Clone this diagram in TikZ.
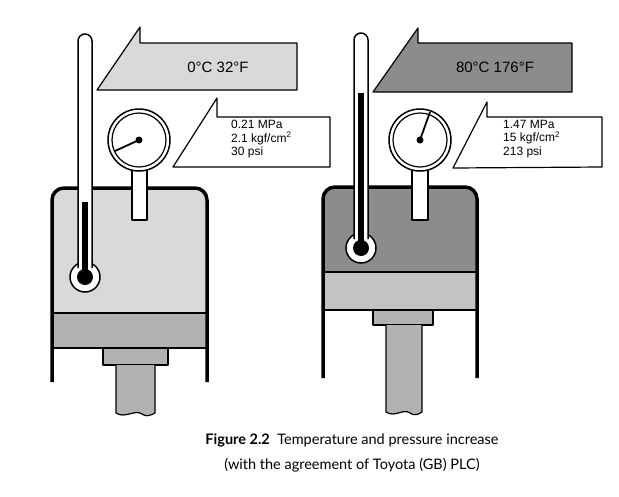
\documentclass[tikz,border=0pt]{standalone}
\usepackage{fontspec}
\setmainfont{Liberation Sans}
\newfontfamily\capfont{Lato}
\begin{document}
\begin{tikzpicture}[x=1pt,y=-1pt,line join=round,
  wall/.style={line width=3.5pt,rounded corners=12},
  thin/.style={line width=1.2pt},
  lbl/.style={font=\fontsize{12}{13.5}\selectfont,align=left,anchor=north west,inner sep=0pt}]
\useasboundingbox (0,0) rectangle (619,496);
\definecolor{lg}{gray}{0.85}
\definecolor{mg}{gray}{0.7}
\definecolor{dg}{gray}{0.55}
% ===== Left =====
\fill[lg] (52,313) [rounded corners=12] -- (52,188) -- (207,188) [sharp corners] -- (207,313) -- cycle;
\draw[line width=1.5pt,fill=mg] (52,313) rectangle (207,348);
\draw[thin,fill=mg] (103,348) rectangle (168,365);
\draw[thin,fill=mg] (116,365) -- (116,413) .. controls (125,419) and (135,409) .. (142,414) .. controls (148,418) and (152,414) .. (155,413) -- (155,365);
\draw[wall] (52,382) -- (52,188) -- (207,188) -- (207,382);
% gauge
\draw[thin,fill=white] (132,160) rectangle (147,220);
\draw[line width=1.5pt,fill=white] (139,140) circle (31);
\draw[thin] (139,140) circle (27);
\fill (139,140) circle (3.5);
\draw[line width=1.8pt] (139,140) -- (115,151);
% thermometer
\draw[line width=1.5pt,fill=white] (85,277) circle (15);
\draw[line width=1.5pt,fill=white,rounded corners=7] (78,268) -- (78,34) -- (92,34) -- (92,268);
\fill[white] (79,262) rectangle (91,272);
\fill (85,277) circle (8);
\fill (82,202) rectangle (88,272);
% arrow
\draw[thin,fill=lg] (97,90) -- (140,27) -- (140,43) -- (297,43) -- (297,90) -- cycle;
\node[font=\fontsize{15}{17}\selectfont] (tl) at (218,67) {0°C 32°F};
% callout
\draw[thin,fill=white] (173,167) -- (217,98) -- (217,117) -- (330,117) -- (330,167) -- cycle;
\node[lbl] (pl) at (231,120) {0.21 MPa\\2.1 kgf/cm\textsuperscript{2}\\30 psi};
% ===== Right =====
\fill[dg] (323,272) [rounded corners=12] -- (323,187) -- (477,187) [sharp corners] -- (477,272) -- cycle;
\draw[line width=1.5pt,fill=lg!90!black] (323,272) rectangle (477,310);
\draw[thin,fill=mg] (373,310) rectangle (433,325);
\draw[thin,fill=mg] (386,325) -- (386,412) .. controls (395,418) and (403,408) .. (410,413) .. controls (416,417) and (420,413) .. (422,412) -- (422,325);
\draw[wall] (323,378) -- (323,187) -- (477,187) -- (477,378);
\draw[thin,fill=white] (412,160) rectangle (428,220);
\draw[line width=1.5pt,fill=white] (420,140) circle (31);
\draw[thin] (420,140) circle (27);
\fill (420,140) circle (3.5);
\draw[line width=1.8pt] (420,140) -- (430,112);
\draw[line width=1.5pt,fill=white] (361,248) circle (15);
\draw[line width=1.5pt,fill=white,rounded corners=7] (354,239) -- (354,33) -- (368,33) -- (368,239);
\fill[white] (355,233) rectangle (367,243);
\fill (361,248) circle (8);
\fill (358,93) rectangle (364,244);
\draw[thin,fill=dg] (373,92) -- (418,28) -- (418,43) -- (572,43) -- (572,92) -- cycle;
\node[font=\fontsize{15}{17}\selectfont] (tr) at (495,67) {80°C 176°F};
\draw[thin,fill=white] (453,168) -- (487,102) -- (487,117) -- (602,117) -- (602,167) -- cycle;
\node[lbl] (pr) at (503,120) {1.47 MPa\\15 kgf/cm\textsuperscript{2}\\213 psi};
% caption
\node[font=\capfont\fontsize{14.5}{25}\selectfont,align=center] (cap) at (352,453) {\textbf{Figure 2.2}\ \ Temperature and pressure increase\\(with the agreement of Toyota (GB) PLC)};
\end{tikzpicture}
\end{document}
